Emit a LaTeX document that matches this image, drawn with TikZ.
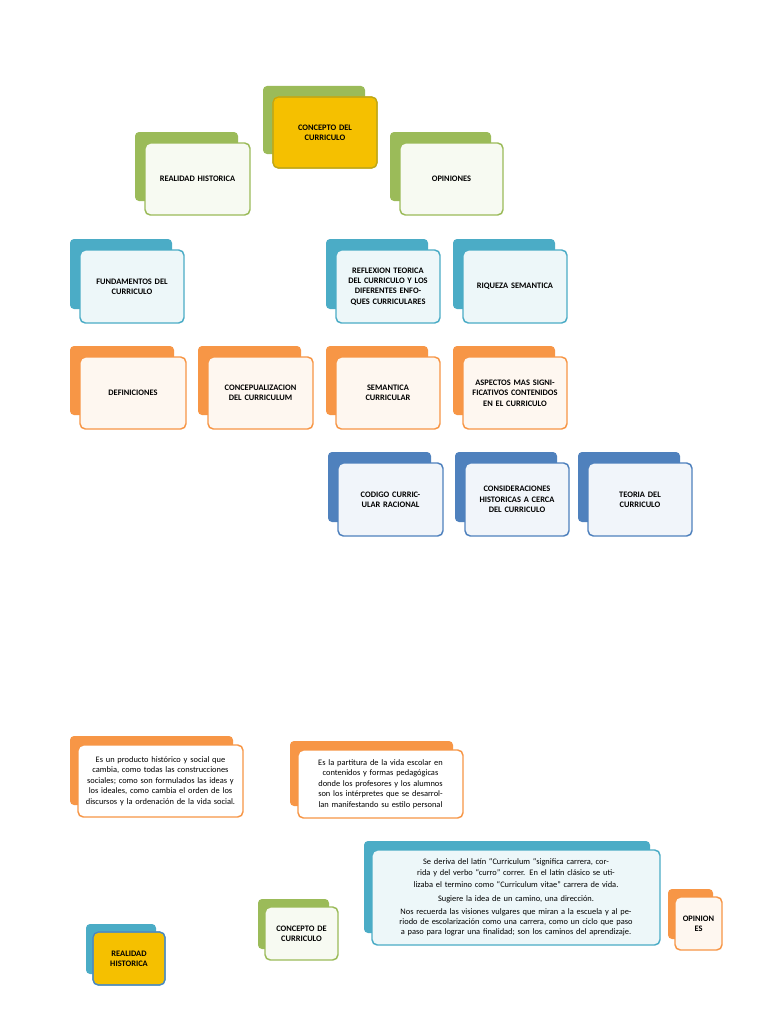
\documentclass[tikz,border=0pt]{standalone}
\usepackage{fontspec}
\setmainfont{Carlito}
\usetikzlibrary{calc,backgrounds}
\definecolor{gr}{HTML}{9BBB59}
\definecolor{bl}{HTML}{4BACC6}
\definecolor{orr}{HTML}{F79646}
\definecolor{db}{HTML}{4F81BD}
\definecolor{ye}{HTML}{F5C000}
\newcommand\off{10}
% name x1 y1 x2 y2 color fill textwidth(pt) text
\newcommand\bx[9]{%
\fill[#6,rounded corners=3pt] (#2-\off,#3-\off-1) rectangle (#4-\off-2,#5-\off-4);
\pgfmathsetmacro\ww{(#4-#2)*0.75}\pgfmathsetmacro\hh{(#5-#3)*0.75}%
\node[front,draw=#6,fill=#7,minimum width=\ww pt,minimum height=\hh pt,text width=#8pt] (#1) at ({(#2+#4)/2},{(#3+#5)/2}) {#9};}
\tikzset{front/.style={rounded corners=4pt,line width=1.1pt,inner sep=0pt,align=center,font=\fontsize{6.3}{7.8}\selectfont\bfseries},
para/.style={font=\fontsize{6.3}{8.4}\selectfont},
ln/.style={line width=1.1pt}}
\begin{document}
\begin{tikzpicture}[x=0.75pt,y=-0.75pt]
\useasboundingbox[fill=white] (0,0) rectangle (768,1024);
% top tree
\bx{con}{273}{97}{377}{168}{gr}{ye}{60}{CONCEPTO DEL\\CURRICULO}
\draw[ye!85!black,line width=0.8pt,rounded corners=4pt] (273,97) rectangle (377,168);
\bx{rh}{145}{143}{250}{215}{gr}{gr!8}{70}{REALIDAD HISTORICA}
\bx{op}{400}{143}{503}{215}{gr}{gr!8}{70}{OPINIONES}
\bx{fund}{80}{250}{184}{323}{bl}{bl!10}{66}{FUNDAMENTOS DEL\\CURRICULO}
\bx{refl}{336}{250}{440}{323}{bl}{bl!10}{66}{REFLEXION TEORICA DEL CURRICULO Y LOS DIFERENTES ENFOQUES CURRICULARES}
\bx{riq}{463}{250}{567}{323}{bl}{bl!10}{70}{RIQUEZA SEMANTICA}
\bx{def}{80}{357}{186}{429}{orr}{orr!8}{66}{DEFINICIONES}
\bx{conc}{208}{357}{313}{429}{orr}{orr!8}{66}{CONCEPUALIZACION DEL CURRICULUM}
\bx{sem}{336}{357}{440}{429}{orr}{orr!8}{66}{SEMANTICA\\CURRICULAR}
\bx{asp}{463}{357}{567}{429}{orr}{orr!8}{66}{ASPECTOS MAS SIGNIFICATIVOS CONTENIDOS EN EL CURRICULO}
\bx{cod}{338}{463}{443}{536}{db}{db!8}{66}{CODIGO CURRICULAR RACIONAL}
\bx{cons}{465}{463}{569}{536}{db}{db!8}{66}{CONSIDERACIONES HISTORICAS A CERCA DEL CURRICULO}
\bx{teo}{588}{463}{692}{536}{db}{db!8}{66}{TEORIA DEL\\CURRICULO}
\begin{pgfonlayer}{background}
\draw[ln,bl] (con.south) -- ($(con.south)+(0,58)$);
\draw[ln,bl] ($(fund.north)+(-10,0)$) -- ($(fund.north)+(-10,-24)$) -- ($(riq.north)+(-10,-24)$) -- ($(riq.north)+(-10,0)$);
\draw[ln,bl] ($(refl.north)+(-10,0)$) -- ($(refl.north)+(-10,-24)$);
\draw[ln,orr] ($(fund.south)+(-10,0)$) -- ($(def.north)+(-10,0)$);
\draw[ln,orr] (refl.south) -- ($(refl.south)+(0,10)$);
\draw[ln,orr] ($(conc.north)+(-10,0)$) -- ($(conc.north)+(-10,-24)$) -- ($(asp.north)+(-10,-24)$) -- ($(asp.north)+(-10,0)$);
\draw[ln,orr] ($(sem.north)+(-10,0)$) -- ($(sem.north)+(-10,-24)$);
\draw[ln,db] (asp.south) -- ($(asp.south)+(0,11)$);
\draw[ln,db] ($(cod.north)+(-10,0)$) -- ($(cod.north)+(-10,-23)$) -- ($(teo.north)+(-10,-23)$) -- ($(teo.north)+(-10,0)$);
\draw[ln,db] ($(cons.north)+(-10,0)$) -- ($(cons.north)+(-10,-23)$);
\end{pgfonlayer}
% bottom
\renewcommand\off{8}
\bx{pa}{78}{745}{243}{817}{orr}{white}{118}{\mdseries\fontsize{6.3}{8.4}\selectfont Es un producto histórico y social que cambia, como todas las construcciones sociales; como son formulados las ideas y los ideales, como cambia el orden de los discursos y la ordenación de la vida social.}
\bx{pb}{298}{750}{463}{818}{orr}{white}{118}{\mdseries\fontsize{6.3}{8.4}\selectfont Es la partitura de la vida escolar en contenidos y formas pedagógicas donde los profesores y los alumnos son los intérpretes que se desarrollan manifestando su estilo personal}
\bx{pc}{372}{850}{660}{945}{bl}{bl!10}{210}{\mdseries\fontsize{6.3}{8.4}\selectfont Se deriva del latín “Curriculum “significa carrera, corrida y del verbo “curro” correr. En el latín clásico se utilizaba el termino como “Curriculum vitae” carrera de vida.\\[2pt] Sugiere la idea de un camino, una dirección.\\[2pt] Nos recuerda las visiones vulgares que miran a la escuela y al periodo de escolarización como una carrera, como un ciclo que paso a paso para lograr una finalidad; son los caminos del aprendizaje.}
\renewcommand\off{7}
\bx{op2}{675}{897}{722}{950}{orr}{orr!8}{34}{OPINION\\ES}
\bx{cc}{265}{907}{338}{960}{gr}{gr!8}{50}{CONCEPTO DE CURRICULO}
\bx{rh2}{93}{932}{165}{985}{bl}{ye}{50}{REALIDAD HISTORICA}
\draw[db,line width=0.8pt,rounded corners=4pt] (93,932) rectangle (165,985);
\coordinate (end) at (582,1022);
\begin{pgfonlayer}{background}
\draw[ln,orr!80!white] ($(pa.south)+(-22,0)$) -- ($(rh2.north)+(-8,0)$);
\draw[ln,orr!80!white] (pb.south west) -- ($(rh2.north east)+(-6,0)$);
\draw[ln,bl] (rh2.east) -- (cc.west);
\draw[ln,bl] (cc.east) -- ($(pc.south west)+(0,-45)$);
\draw[ln,orr] ($(pc.east)+(0,-4)$) -- ($(op2.north west)+(-6,0)$);
\draw[ln,db] (op2.south) -- (op2.south |- end) -- (end);
\end{pgfonlayer}
\end{tikzpicture}
\end{document}
